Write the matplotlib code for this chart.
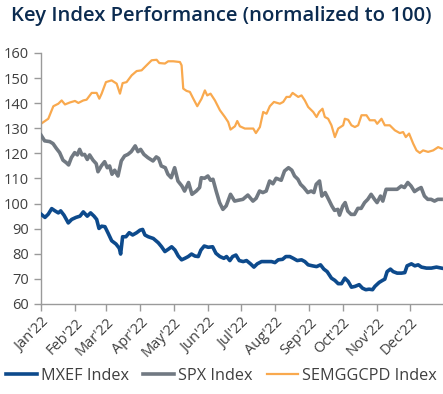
import matplotlib
matplotlib.use("Agg")
import matplotlib.pyplot as plt
import matplotlib.dates as mdates
import pandas as pd
import numpy as np

# ---- data (day-of-year offsets from 2022-01-01, index level) ----
mxef_days = [0, 3.6, 6.6, 9.7, 12.7, 15.7, 17.8, 20.8, 24.7, 27.8, 31.7, 35.3, 38.3, 41.9, 44.9, 48.0,
             50.4, 52.5, 54.9, 57.9, 60.9, 64.0, 67.9, 70.9, 72.1, 73.9, 76.9, 79.9, 83.0, 86.6, 89.6,
             92.0, 94.1, 97.1, 101.7, 106.2, 109.2, 112.2, 115.2, 118.3, 121.3, 124.3, 127.3, 130.3,
             133.3, 136.3, 139.4, 142.4, 144.8, 147.8, 151.4, 155.4, 158.4, 162.0, 165.6, 168.0, 171.0,
             173.5, 176.5, 179.5, 183.1, 186.1, 189.7, 192.8, 195.8, 199.7, 204.2, 208.7, 211.8, 214.8,
             218.7, 221.7, 225.3, 228.4, 232.0, 235.9, 238.9, 241.9, 245.9, 249.5, 253.1, 256.1, 259.1,
             263.0, 266.1, 269.1, 272.1, 275.1, 278.1, 281.1, 284.2, 288.1, 291.1, 294.1, 297.1, 300.2,
             302.3, 306.2, 309.2, 311.3, 313.4, 316.4, 318.9, 322.5, 326.4, 329.4, 331.5, 335.4, 338.5,
             341.5, 344.5, 349.0, 353.5, 358.1, 362.6]
mxef_vals = [95.8, 94.5, 95.8, 98.0, 97.1, 96.3, 97.1, 95.4, 92.3, 93.7, 94.5, 95.0, 96.7, 95.0, 96.3, 95.0,
             93.7, 90.1, 91.0, 90.8, 88.1, 85.2, 83.9, 82.2, 79.9, 86.8, 86.8, 88.4, 87.5, 88.4, 89.4,
             89.7, 87.5, 86.8, 86.1, 84.4, 82.8, 80.9, 81.8, 82.8, 81.5, 79.1, 77.6, 78.2,
             78.9, 79.9, 79.1, 78.9, 81.5, 83.1, 82.6, 82.8, 80.2, 78.9, 78.2, 78.9, 77.3,
             78.9, 79.5, 77.3, 76.9, 77.3, 76.0, 74.7, 76.0, 76.9, 76.9, 76.9, 76.5, 77.6,
             77.8, 78.9, 78.9, 78.2, 77.3, 77.6, 76.9, 75.6, 75.2, 74.9, 75.6, 73.9, 72.9,
             70.3, 69.4, 68.1, 68.1, 70.3, 69.0, 66.7, 67.0, 67.7, 66.3, 65.7, 65.9, 65.7,
             67.0, 68.6, 69.4, 69.9, 72.9, 73.9, 72.9, 72.3, 72.3, 72.5, 75.2, 76.0, 75.2,
             75.6, 74.7, 74.3, 74.3, 74.7, 74.3]

spx_days = [0, 3.3, 7.9, 10.9, 13.9, 16.9, 19.9, 22.9, 25.0, 27.5, 30.5, 32.9, 35.0, 37.1, 39.5, 41.9,
            44.0, 47.1, 50.0, 51.6, 54.6, 57.6, 60.0, 62.1, 64.3, 66.7, 69.7, 72.7, 75.7, 78.7, 81.7,
            85.3, 87.8, 90.2, 93.2, 96.8, 101.4, 104.4, 106.5, 108.9, 112.5, 114.9, 117.9, 121.0, 124.0,
            127.6, 130.0, 133.6, 136.7, 140.6, 143.6, 145.1, 148.1, 151.1, 153.5, 155.7, 158.6, 161.7,
            164.7, 167.7, 171.6, 175.3, 178.3, 182.8, 187.3, 191.9, 194.8, 197.9, 200.9, 203.9,
            207.0, 210.0, 212.9, 217.5, 220.5, 224.1, 227.1, 229.6, 232.6, 235.0, 238.0, 241.6, 244.6,
            247.1, 249.2, 252.2, 254.3, 257.3, 260.4, 263.3, 265.8, 268.8, 270.3, 273.3, 275.4, 277.8,
            280.8, 283.9, 286.9, 289.9, 293.0, 295.9, 298.9, 302.0, 304.3, 307.4, 309.5, 312.5, 315.6,
            318.6, 322.5, 326.2, 329.1, 332.1, 335.1, 338.2, 341.2, 344.2, 347.2, 350.2, 353.2, 356.3,
            359.3, 362.3]
spx_vals = [127.3, 125.0, 124.7, 123.9, 122.0, 120.3, 117.3, 116.3, 115.4, 118.3, 120.3, 119.4, 121.6, 119.4,
            119.6, 117.6, 119.4, 117.3, 115.9, 112.7, 115.0, 116.7, 114.3, 115.0, 111.7, 113.3, 111.0,
            117.0, 119.0, 119.6, 120.7, 123.0, 120.7, 121.6, 119.6, 118.3, 117.0, 118.6, 118.0, 115.0,
            114.3, 111.7, 110.3, 114.3, 109.0, 107.0, 105.0, 108.4, 103.7, 105.0, 106.4, 110.3, 110.1,
            111.0, 109.3, 109.7, 105.0, 100.4, 97.7, 99.1, 103.7, 101.0, 101.3, 101.7, 103.4, 101.0,
            102.1, 105.0, 104.4, 105.0, 109.0, 107.9, 110.1, 109.3, 113.0, 114.3, 113.3, 111.0, 109.7,
            107.7, 106.4, 104.4, 105.0, 104.4, 107.7, 109.0, 103.0, 104.4, 101.7, 99.1, 97.3, 97.7,
            95.4, 99.1, 100.4, 97.0, 95.7, 95.7, 98.1, 98.1, 100.4, 101.7, 103.7, 101.7, 100.4, 103.0,
            101.0, 105.7, 105.7, 105.7, 105.7, 107.0, 106.4, 108.4, 107.0, 104.8, 105.7, 106.4, 103.0,
            101.7, 101.7, 101.0, 101.7, 101.7]

semg_days = [0, 3.6, 6.6, 9.7, 11.2, 15.7, 18.7, 21.7, 26.2, 30.8, 33.8, 38.3, 41.3, 45.9, 50.4, 52.8,
             54.9, 58.8, 63.9, 68.5, 71.5, 73.9, 77.5, 82.1, 86.6, 91.1, 95.6, 100.2, 104.7, 107.1, 112.2,
             115.2, 119.8, 125.8, 127.3, 128.8, 131.8, 134.8, 137.9, 141.5, 145.4, 148.4, 150.5, 153.5,
             157.5, 162.0, 166.5, 169.5, 171.6, 175.6, 177.7, 180.1, 184.6, 192.2, 194.6, 198.2, 201.2,
             204.2, 207.2, 210.9, 216.3, 219.3, 222.3, 225.3, 227.8, 232.9, 235.9, 238.9, 241.9, 246.5,
             249.5, 251.9, 254.9, 257.0, 260.0, 263.0, 266.1, 269.1, 273.6, 275.1, 278.1, 281.1, 284.2,
             287.2, 290.2, 294.7, 297.7, 302.3, 304.4, 308.3, 311.3, 315.8, 320.4, 324.9, 327.9, 330.3,
             333.3, 337.0, 340.0, 343.0, 346.0, 350.5, 355.1, 359.6, 362.9]
semg_vals = [131.8, 132.9, 133.8, 137.2, 138.8, 139.8, 141.1, 139.5, 140.3, 140.9, 140.1, 141.1, 141.4, 144.1,
             144.1, 141.8, 143.8, 148.4, 149.1, 147.8, 143.8, 148.0, 148.4, 151.1, 152.8, 153.1, 155.1,
             157.1, 157.3, 156.0, 155.8, 156.7, 156.7, 156.4, 155.1, 145.8, 144.9, 144.5, 141.8, 138.8,
             141.8, 145.1, 143.1, 143.8, 141.1, 137.2, 134.5, 132.5, 129.5, 130.8, 132.9, 130.8, 129.9,
             129.9, 128.1, 130.5, 136.5, 135.8, 138.8, 140.5, 139.8, 140.5, 142.5, 142.5, 144.1, 142.5,
             143.1, 141.1, 138.5, 136.5, 134.5, 136.5, 137.8, 134.5, 133.8, 131.2, 126.5, 129.9, 131.2,
             133.8, 133.4, 131.2, 130.5, 131.2, 135.2, 135.2, 133.2, 133.2, 131.8, 133.8, 131.2, 131.2,
             129.2, 128.1, 128.5, 126.5, 127.9, 123.9, 121.2, 120.2, 121.2, 120.6, 121.2, 122.5, 121.9]

series_names = ["MXEF Index", "SPX Index", "SEMGGCPD Index"]
month_labels = ["Jan'22", "Feb'22", "Mar'22", "Apr'22", "May'22", "Jun'22",
                "Jul'22", "Aug'22", "Sep'22", "Oct'22", "Nov'22", "Dec'22"]
y_ticks = [60, 70, 80, 90, 100, 110, 120, 130, 140, 150, 160]

start = pd.Timestamp("2022-01-01")
def to_dates(days):
    return start + pd.to_timedelta(np.array(days), unit="D")

plt.rcParams['font.family'] = ['Open Sans', 'DejaVu Sans']

fig = plt.figure(figsize=(4.43, 3.94), dpi=100)
ax = fig.add_axes([41/443, 1-304/394, 1-41/443, (304-53)/394])

c_blue = "#0d4a8c"
c_gray = "#717982"
c_orange = "#f9a94e"

ax.plot(to_dates(semg_days), semg_vals, color=c_orange, lw=1.6, label=series_names[2], zorder=2)
ax.plot(to_dates(spx_days), spx_vals, color=c_gray, lw=2.6, label=series_names[1], zorder=3)
ax.plot(to_dates(mxef_days), mxef_vals, color=c_blue, lw=2.6, label=series_names[0], zorder=4)

ax.set_ylim(60, 160)
ax.set_yticks(y_ticks)
ax.set_xlim(start, pd.Timestamp("2022-12-31"))
month_starts = pd.date_range("2022-01-01", periods=12, freq="MS")
ax.set_xticks(month_starts)
ax.set_xticklabels(month_labels, rotation=45, ha="right", rotation_mode="anchor")

for s in ["top", "right"]:
    ax.spines[s].set_visible(False)
for s in ["left", "bottom"]:
    ax.spines[s].set_color("#9a9a9a")
    ax.spines[s].set_linewidth(1.0)
ax.tick_params(axis="both", colors="#9a9a9a", length=5, width=1.0, labelcolor="#3f3f3f", labelsize=10.5)
ax.tick_params(axis="x", pad=3)

fig.text(0.5, 0.985, "Key Index Performance (normalized to 100)", ha="center", va="top",
         fontsize=14.6, fontweight="semibold", color="#0b2b50")

handles, labels = ax.get_legend_handles_labels()
order = [2, 1, 0]
leg = fig.legend([handles[i] for i in order], [labels[i] for i in order], loc="lower center",
                 bbox_to_anchor=(0.5, -0.012), ncol=3, frameon=False, fontsize=11.7,
                 handlelength=1.9, handletextpad=0.25, columnspacing=0.9, labelcolor="#3f3f3f")

fig.savefig("out.png", dpi=100)
